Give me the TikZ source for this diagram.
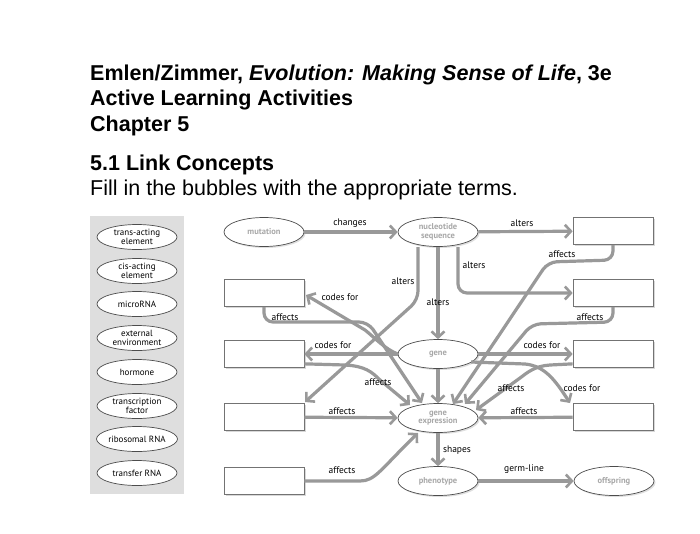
\documentclass[tikz,border=0pt]{standalone}
\usepackage{fontspec}
\setmainfont{Liberation Sans}
\newfontfamily\labfont{PT Sans}
\usetikzlibrary{arrows.meta,shapes.geometric,shadows}
\definecolor{ln}{HTML}{999999}
\definecolor{tx}{HTML}{A8A8A8}
\tikzset{
 con/.style={draw=ln,line width=3.2pt,rounded corners=9pt,-{Straight Barb[length=6pt,width=13pt,line width=2.6pt]}},
 bub/.style={ellipse,draw=black!70,line width=0.7pt,fill=white,minimum width=80pt,minimum height=29pt,inner sep=0pt,align=center,font=\labfont\fontsize{8.5}{8.5}\selectfont\bfseries,text=tx,drop shadow={opacity=0.25,shadow xshift=1.5pt,shadow yshift=-1.5pt}},
 sbub/.style={ellipse,draw=black!70,line width=0.7pt,fill=white,minimum width=80pt,minimum height=25pt,inner sep=0pt,align=center,font=\labfont\fontsize{9}{9}\selectfont},
 box/.style={draw=black!55,line width=0.7pt,fill=white,minimum width=80pt,minimum height=27pt,inner sep=0pt,drop shadow={opacity=0.3,shadow xshift=1.5pt,shadow yshift=-1.5pt}},
 lab/.style={font=\labfont\fontsize{9.5}{10}\selectfont,inner sep=0pt},
 ttl/.style={anchor=base west,inner sep=0,font=\fontsize{21.5}{21.5}\selectfont\bfseries},
}
\begin{document}
\begin{tikzpicture}[x=1pt,y=-1pt]
\useasboundingbox (0,0) rectangle (700,533);
\fill[white] (0,0) rectangle (700,533);
% titles
\node[ttl] (t1) at (90,80) {Emlen/Zimmer, \textit{Evolution: Making Sense of Life}, 3e};
\node[ttl] (t2) at (90,105) {Active Learning Activities};
\node[ttl] (t3) at (90,131) {Chapter 5};
\node[ttl] (t4) at (90,170) {5.1 Link Concepts};
\node[ttl,font=\fontsize{21.5}{21.5}\selectfont] (t5) at (90,195) {Fill in the bubbles with the appropriate terms.};
% word bank
\fill[black!13] (90,216) rectangle (184,494);
\foreach \t/\y [count=\i] in {{trans-acting\\element}/237,{cis-acting\\element}/271,{microRNA}/304,{external\\environment}/338,{hormone}/372,{transcription\\factor}/406,{ribosomal RNA}/439,{transfer RNA}/473}
  \node[sbub] (w\i) at (137,\y) {\t};
% main nodes
\node[bub] (mut) at (264,232) {mutation};
\node[bub] (nuc) at (438,232) {nucleotide\\sequence};
\node[bub] (gene) at (438,354) {gene};
\node[bub] (gex) at (438,418) {gene\\expression};
\node[bub] (phe) at (438,481) {phenotype};
\node[bub] (off) at (614,481) {offspring};
\node[box] (L1) at (264,293) {};
\node[box] (L2) at (264,354) {};
\node[box] (L3) at (264,417) {};
\node[box] (L4) at (264,481) {};
\node[box] (R1) at (613,231) {};
\node[box] (R2) at (613,293) {};
\node[box] (R3) at (613,354) {};
\node[box] (R4) at (613,417) {};
\coordinate (n1) at (418,247);
\coordinate (n2) at (458,247);
% connectors
\draw[con] (mut) -- (nuc);
\draw[con] (nuc) -- (R1);
\draw[con] (n2) |- (R2.west);
\draw[con] (nuc) -- (gene);
\draw[con] (n1) -- (418,300) -- (305,402);
\draw[con] (R1.south) -- (613,260) -- (548,262) -- (453,404);
\draw[con] (L1.south) -- (264,322) -- (368,322) -- (422,403);
\draw[con] (R2.south) -- (613,322) -- (532,324) -- (465,404);
\draw[con,rounded corners=0pt] (gene.west) .. controls (385,349) and (375,338) .. (365,330) -- (306,295);
\draw[con] (gene) -- (L2);
\draw[con] (gene) -- (R3);
\draw[con] (gene) -- (gex);
\draw[con,rounded corners=0pt] (L2.south east) ++(0,-4) -- (345,365) .. controls (365,366) and (372,372) .. (380,380) -- (410,405);
\draw[con,rounded corners=0pt] (R3.south west) ++(0,-4) -- (550,365) .. controls (535,366) and (528,372) .. (520,378) -- (476,410);
\draw[con,rounded corners=0pt] (471,362) -- (525,364) .. controls (545,366) and (555,380) .. (570,403);
\draw[con] (L3) -- (gex);
\draw[con] (R4) -- (gex);
\draw[con,rounded corners=0pt] (L4.east) -- (360,481) .. controls (375,481) and (380,470) .. (418,433);
\draw[con] (gex) -- (phe);
\draw[con] (phe) -- (off);
% labels
\node[lab] (a1) at (350,223) {changes};
\node[lab] (a2) at (522,223) {alters};
\node[lab] (a3) at (474,265) {alters};
\node[lab] (a4) at (438,302) {alters};
\node[lab] (a5) at (403,281) {alters};
\node[lab] (a6) at (562,254) {affects};
\node[lab] (a7) at (285,317) {affects};
\node[lab] (a8) at (340,297) {codes for};
\node[lab] (a9) at (333,345) {codes for};
\node[lab] (a10) at (542,345) {codes for};
\node[lab] (a11) at (590,317) {affects};
\node[lab] (a12) at (378,382) {affects};
\node[lab] (a13) at (511,388) {affects};
\node[lab] (a14) at (582,388) {codes for};
\node[lab] (a15) at (342,411) {affects};
\node[lab] (a16) at (524,411) {affects};
\node[lab] (a17) at (342,470) {affects};
\node[lab] (a18) at (457,450) {shapes};
\node[lab] (a19) at (524,469) {germ-line};
\end{tikzpicture}
\end{document}
